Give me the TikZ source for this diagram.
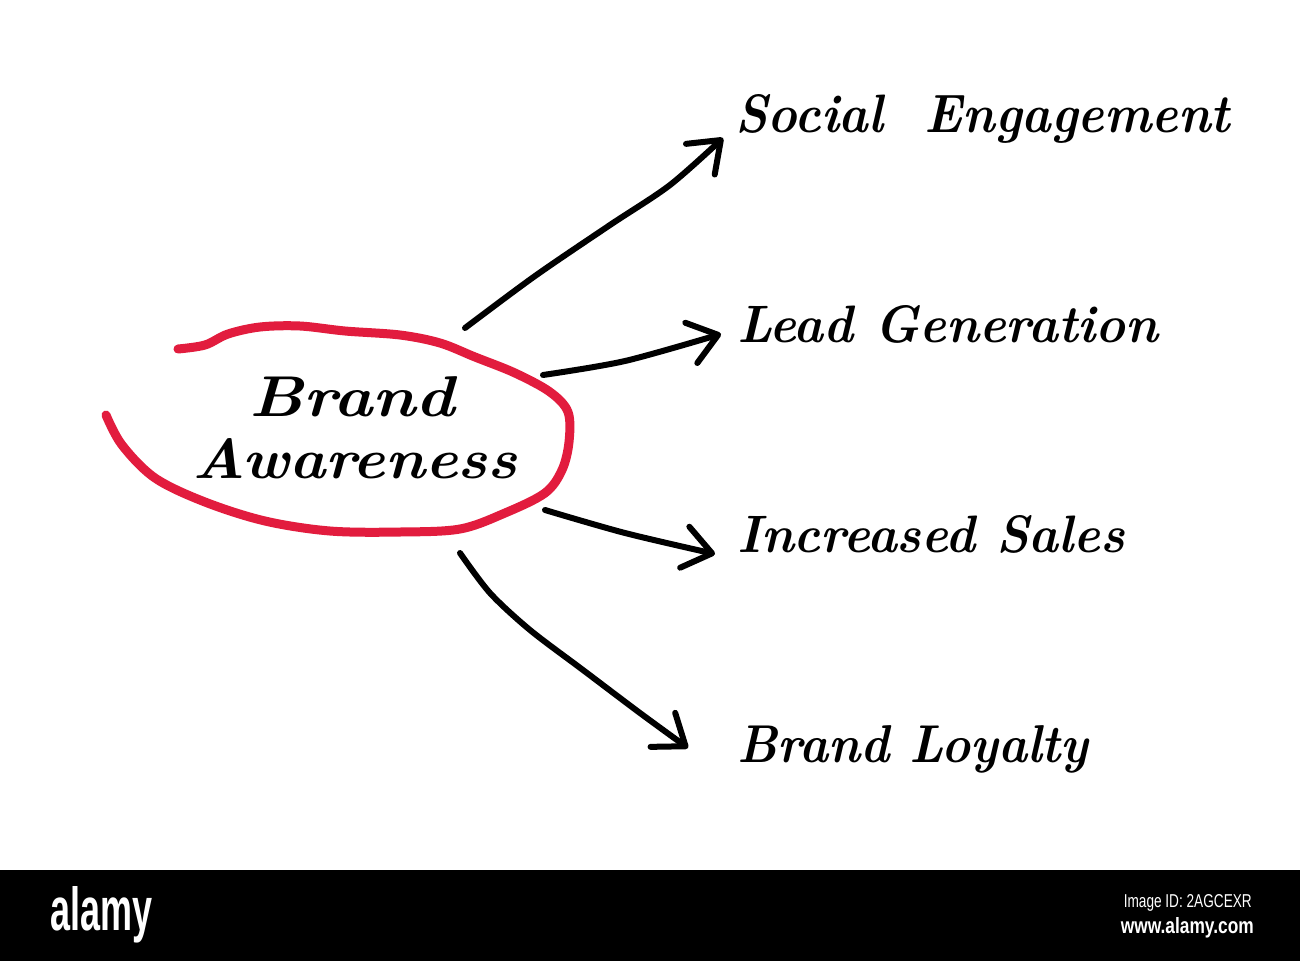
\documentclass[tikz,border=0pt]{standalone}
\usepackage{fontspec}
\usetikzlibrary{arrows.meta}
\newfontfamily\barfont{Liberation Sans}
\definecolor{penred}{RGB}{226,28,62}
\tikzset{
  pen/.style={line width=6pt, line cap=round, line join=round, black},
  arr/.style={pen, -{Straight Barb[length=28pt,width=42pt,round]}},
  ring/.style={line width=9pt, line cap=round, line join=round, penred},
  lbl/.style={anchor=base west, inner sep=0pt, text=black},
  bartxt/.style={text=white, inner sep=0pt, font=\barfont}
}
\newcommand{\hand}[1]{{\bfseries\itshape #1}}
\begin{document}
\begin{tikzpicture}[x=1pt,y=-1pt]
\useasboundingbox (0,0) rectangle (1300,961);
\fill[white] (0,0) rectangle (1300,961);
% hand-drawn ring
\draw[ring] plot[smooth, tension=0.55] coordinates {(178,349) (205,345) (228,334) (260,327) (300,326) (345,331) (400,335) (440,343) (475,357) (515,373) (550,392) (568,412) (569,442) (562,470) (545,493) (505,513) (460,529) (400,532) (330,531) (265,521) (205,502) (155,478) (122,445) (106,415)};
% centre node
\node[inner sep=0pt] (ba) at (352,430) {};
\node[lbl, anchor=base] (brand) at (352,416) {\resizebox{205pt}{40pt}{\hand{Brand}}};
\node[lbl, anchor=base] (aware) at (355,478) {\resizebox{325pt}{40pt}{\hand{Awareness}}};
% labels
\node[lbl] (se) at (735,132) {\resizebox{495pt}{38pt}{\hand{Social\ \ Engagement}}};
\node[lbl] (lg) at (737,342) {\resizebox{421pt}{37pt}{\hand{Lead Generation}}};
\node[lbl] (is) at (737,552) {\resizebox{388pt}{37pt}{\hand{Increased Sales}}};
\node[lbl] (bl) at (737,762) {\resizebox{351pt}{37pt}{\hand{Brand Loyalty}}};
% connector end points
\coordinate (s1) at (465,328); \coordinate (t1) at (723,138);
\coordinate (s2) at (543,375); \coordinate (t2) at (721,334);
\coordinate (s3) at (545,510); \coordinate (t3) at (715,554);
\coordinate (s4) at (460,553); \coordinate (t4) at (688,748);
\draw[arr] plot[smooth] coordinates {(s1) (535,276) (610,225) (670,185) (t1)};
\draw[arr] plot[smooth] coordinates {(s2) (625,361) (t2)};
\draw[arr] plot[smooth] coordinates {(s3) (625,533) (t3)};
\draw[arr] plot[smooth] coordinates {(s4) (490,593) (530,630) (583,670) (640,713) (t4)};
% bottom bar
\fill[black] (0,870) rectangle (1300,961);
\node[bartxt, anchor=west] (alamy) at (50,915) {\resizebox{102pt}{44pt}{\bfseries alamy}};
\node[bartxt, anchor=east] (imgid) at (1252,903) {\resizebox{128pt}{13pt}{Image ID: 2AGCEXR}};
\node[bartxt, anchor=east] (www) at (1254,928) {\resizebox{133pt}{16pt}{\bfseries www.alamy.com}};
\end{tikzpicture}
\end{document}
